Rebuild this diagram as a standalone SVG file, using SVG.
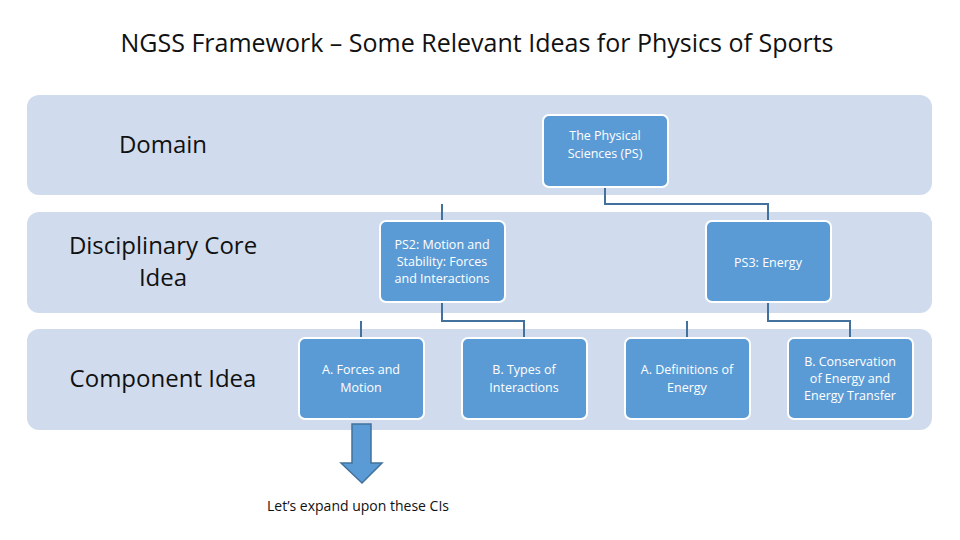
<svg xmlns="http://www.w3.org/2000/svg" width="960" height="540" viewBox="0 0 960 540">
<style>
text{font-family:"Open Sans","Liberation Sans",sans-serif}
.band{fill:#d0dcee}
.node rect{fill:#5b9bd5;stroke:#fff;stroke-width:2}
.node text{fill:#fff;font-size:12.5px;text-anchor:middle}
.lbl{font-size:24px;fill:#111;text-anchor:middle}
.conn{fill:none;stroke:#41719c;stroke-width:2}
</style>
<rect width="960" height="540" fill="#fff"/>
<text x="477" y="52" font-size="25" text-anchor="middle" fill="#111">NGSS Framework – Some Relevant Ideas for Physics of Sports</text>
<rect class="band" x="27" y="95" width="905" height="100" rx="12"/>
<rect class="band" x="27" y="212" width="905" height="101" rx="12"/>
<rect class="band" x="27" y="329" width="905" height="101" rx="12"/>
<text class="lbl" x="163" y="153">Domain</text>
<text class="lbl" x="163" y="254">Disciplinary Core</text>
<text class="lbl" x="163" y="286">Idea</text>
<text class="lbl" x="163" y="387">Component Idea</text>
<g id="connectors">
<path class="conn" d="M605 187V204H768V221M442 204V221"/>
<path class="conn" d="M442 302V321H524V338M361 321V338"/>
<path class="conn" d="M768 302V321H850V338M687 321V338"/>
</g>
<g id="ps" class="node"><rect x="543" y="115" width="125" height="72" rx="6"/><text x="605" y="140">The Physical</text><text x="605" y="158">Sciences (PS)</text></g>
<g id="ps2" class="node"><rect x="380" y="221" width="125" height="81" rx="6"/><text x="442" y="249">PS2: Motion and</text><text x="442" y="266">Stability: Forces</text><text x="442" y="283">and Interactions</text></g>
<g id="ps3" class="node"><rect x="706" y="221" width="125" height="81" rx="6"/><text x="768" y="267">PS3: Energy</text></g>
<g id="a1" class="node"><rect x="299" y="338" width="125" height="81" rx="6"/><text x="361" y="374">A. Forces and</text><text x="361" y="392">Motion</text></g>
<g id="b1" class="node"><rect x="462" y="338" width="125" height="81" rx="6"/><text x="524" y="374">B. Types of</text><text x="524" y="392">Interactions</text></g>
<g id="a2" class="node"><rect x="625" y="338" width="125" height="81" rx="6"/><text x="687" y="374">A. Definitions of</text><text x="687" y="392">Energy</text></g>
<g id="b2" class="node"><rect x="788" y="338" width="125" height="81" rx="6"/><text x="850" y="366">B. Conservation</text><text x="850" y="383">of Energy and</text><text x="850" y="400">Energy Transfer</text></g>
<g id="arrow"><path d="M352 424H371V463H382L362 483L341 463H352Z" fill="#5b9bd5" stroke="#41719c" stroke-width="1.5"/></g>
<text x="358" y="511" font-size="14" text-anchor="middle" fill="#111">Let’s expand upon these CIs</text>
</svg>
